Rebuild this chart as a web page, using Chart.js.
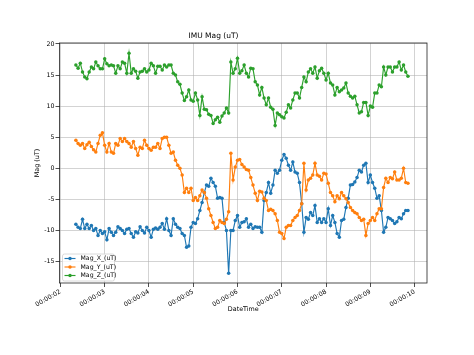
<!DOCTYPE html>
<html><head><meta charset="utf-8">
<script src="https://cdn.jsdelivr.net/npm/chart.js@4.4.0/dist/chart.umd.min.js"></script>
<style>html,body{margin:0;padding:0;background:#fff}</style>
</head><body>
<canvas id="c" width="474" height="355"></canvas>
<script>
// sample times in seconds (00:00:SS)
const timeSec = [
2.35,2.40,2.45,2.50,2.55,2.60,2.65,2.70,2.75,2.80,
2.85,2.90,2.95,3.00,3.05,3.10,3.15,3.20,3.25,3.30,
3.35,3.40,3.45,3.50,3.55,3.60,3.65,3.70,3.75,3.80,
3.85,3.90,3.95,4.00,4.05,4.10,4.15,4.20,4.25,4.30,
4.35,4.40,4.45,4.50,4.55,4.60,4.65,4.70,4.75,4.80,
4.85,4.90,4.95,5.00,5.05,5.10,5.15,5.20,5.25,5.30,
5.35,5.40,5.45,5.50,5.55,5.60,5.65,5.70,5.75,5.80,
5.85,5.90,5.95,6.00,6.05,6.10,6.15,6.20,6.25,6.30,
6.35,6.40,6.45,6.50,6.55,6.60,6.65,6.70,6.75,6.80,
6.85,6.90,6.95,7.00,7.05,7.10,7.15,7.20,7.25,7.30,
7.35,7.40,7.45,7.50,7.55,7.60,7.65,7.70,7.75,7.80,
7.85,7.90,7.95,8.00,8.05,8.10,8.15,8.20,8.25,8.30,
8.35,8.40,8.45,8.50,8.55,8.60,8.65,8.70,8.75,8.80,
8.85,8.90,8.95,9.00,9.05,9.10,9.15,9.20,9.25,9.30,
9.35,9.40,9.45,9.50,9.55,9.60,9.65,9.70,9.75,9.80,
9.85];

const magX = [
-9.0,-9.5,-9.7,-8.2,-9.7,-9.0,-9.7,-9.2,-10.0,-9.7,
-10.8,-10.0,-10.5,-10.2,-11.5,-9.7,-10.3,-10.8,-10.3,-9.4,
-9.7,-10.0,-10.5,-9.8,-9.7,-10.5,-11.1,-10.2,-10.4,-9.4,
-10.0,-10.4,-9.5,-10.0,-11.1,-9.8,-9.6,-9.8,-9.5,-8.9,
-9.8,-8.1,-10.0,-10.8,-8.1,-9.0,-9.5,-9.7,-10.5,-10.8,
-12.7,-12.5,-9.5,-8.7,-8.9,-8.1,-6.8,-5.5,-3.9,-2.7,
-2.9,-1.6,-2.3,-2.9,-4.8,-4.7,-4.8,-8.7,-10.0,-16.9,
-10.0,-10.0,-8.4,-7.6,-9.5,-8.7,-8.6,-8.1,-9.5,-9.0,
-9.7,-9.4,-9.5,-9.5,-10.3,-5.2,-3.9,-2.3,-4.0,-2.7,
-0.3,-0.8,-0.3,1.3,2.2,1.6,0.5,-0.3,1.0,-0.6,
-0.8,-2.3,-5.7,-10.3,-7.9,-8.2,-7.1,-7.6,-6.0,-8.7,
-8.1,-8.7,-8.1,-8.7,-6.5,-9.2,-7.6,-8.7,-10.5,-11.1,
-8.4,-8.2,-6.3,-4.8,-2.7,-2.6,-2.2,-1.5,-0.3,-0.6,
0.5,0.8,-2.3,-1.1,-2.3,-3.2,-4.8,-4.4,-6.8,-10.3,
-9.5,-7.9,-8.1,-8.4,-8.9,-8.6,-7.9,-8.1,-7.3,-6.8,
-6.8];

const magY = [
4.5,4.0,3.7,4.0,3.2,3.8,4.2,3.5,3.0,2.6,
4.0,5.3,5.7,3.7,2.6,4.0,2.6,2.4,4.0,3.7,
4.8,4.3,4.8,4.3,4.0,3.4,4.3,3.2,2.1,3.4,
3.2,4.5,3.7,3.2,2.9,3.4,3.4,4.0,3.2,4.8,
5.0,5.0,3.7,2.4,2.6,1.3,0.5,0.0,-1.1,-3.9,
-3.2,-3.9,-3.2,-5.2,-4.7,-5.2,-4.4,-3.5,-3.9,-4.8,
-6.5,-7.6,-8.7,-9.7,-9.5,-8.4,-8.7,-8.9,-8.2,-7.0,
2.4,-1.9,0.2,1.3,1.4,0.6,0.2,-0.2,-0.3,-1.5,
-2.7,-4.0,-5.2,-3.7,-3.8,-4.8,-5.2,-6.8,-6.6,-6.8,
-7.3,-8.4,-10.3,-10.5,-11.3,-9.5,-9.2,-9.2,-8.4,-7.9,
-7.6,-6.8,-5.7,0.8,-3.5,-1.9,-1.6,-1.1,0.8,-1.1,
-1.3,-1.9,-0.8,-0.9,-2.4,-3.9,-4.4,-5.4,-4.4,-4.9,
-3.9,-4.4,-4.9,-5.5,-6.3,-6.8,-7.1,-7.3,-7.9,-8.4,
-8.2,-10.8,-8.9,-8.4,-7.9,-8.4,-7.3,-6.5,-6.5,-3.1,
-1.6,-2.3,-1.5,-1.7,-0.6,-1.9,-1.9,-1.6,0.0,-2.3,
-2.4];

const magZ = [
16.6,16.1,16.9,15.5,14.7,14.4,15.5,16.3,16.0,17.1,
16.5,16.0,16.0,17.6,16.8,16.5,16.6,16.5,15.3,16.5,
16.0,17.1,16.9,15.3,18.5,15.3,16.0,15.6,14.5,15.5,
15.6,16.0,15.5,15.8,16.9,16.5,15.3,16.4,16.4,15.8,
16.6,16.3,16.6,16.6,15.3,15.0,13.9,13.5,12.1,10.9,
11.5,12.6,11.0,10.8,12.1,11.0,8.5,11.5,9.5,9.4,
8.7,8.5,7.2,7.8,8.2,7.4,8.4,8.9,9.7,8.9,
17.1,15.3,16.0,17.7,15.3,15.7,16.6,15.3,14.7,16.1,
16.0,13.9,13.4,11.8,13.0,11.3,10.2,11.3,9.8,9.5,
6.9,8.9,8.6,8.3,8.1,9.0,10.2,9.7,11.0,12.1,
12.1,11.3,13.0,14.7,13.9,15.5,16.0,15.3,16.3,14.5,
15.7,16.1,15.3,14.2,15.3,13.7,13.4,11.8,13.0,12.3,
12.6,12.9,13.7,12.1,11.6,11.3,11.6,10.2,8.9,9.1,
10.6,10.6,8.5,10.0,9.8,12.1,12.1,13.4,13.1,16.3,
15.0,16.3,16.3,15.5,16.3,16.3,17.1,15.8,16.6,15.5,
14.8];

const seriesLabels = ['Mag_X_(uT)', 'Mag_Y_(uT)', 'Mag_Z_(uT)'];
const xTickSeconds = [2, 3, 4, 5, 6, 7, 8, 9, 10];
const yTickValues = [-15, -10, -5, 0, 5, 10, 15, 20];

const colors = ['#1f77b4', '#ff7f0e', '#2ca02c'];
const FONT = 'DejaVu Sans';
const seriesValues = [magX, magY, magZ];

const datasets = seriesValues.map((vals, k) => ({
  label: seriesLabels[k],
  data: vals.map((v, i) => ({x: timeSec[i], y: v})),
  borderColor: colors[k],
  backgroundColor: colors[k],
  borderWidth: 1.15,
  pointRadius: 1.75,
  pointBorderWidth: 0,
  pointHoverRadius: 1.75,
  tension: 0,
  order: 3 - k
}));

const fmtTime = v => '00:00:' + String(v).padStart(2, '0');

const framePlugin = {
  id: 'frame',
  afterDatasetsDraw(chart) {
    const {ctx, chartArea: a} = chart;
    ctx.save();
    ctx.strokeStyle = '#222';
    ctx.lineWidth = 0.8;
    ctx.strokeRect(a.left, a.top, a.right - a.left, a.bottom - a.top);
    ctx.restore();
  }
};

const legendPlugin = {
  id: 'mplLegend',
  afterDraw(chart) {
    const {ctx, chartArea: a} = chart;
    const x0 = a.left + 3, y0 = a.bottom - 29, w = 52, h = 27, r = 2;
    ctx.save();
    ctx.beginPath();
    ctx.moveTo(x0 + r, y0);
    ctx.arcTo(x0 + w, y0, x0 + w, y0 + h, r);
    ctx.arcTo(x0 + w, y0 + h, x0, y0 + h, r);
    ctx.arcTo(x0, y0 + h, x0, y0, r);
    ctx.arcTo(x0, y0, x0 + w, y0, r);
    ctx.closePath();
    ctx.fillStyle = 'rgba(255,255,255,0.8)';
    ctx.fill();
    ctx.strokeStyle = '#d0d0d0';
    ctx.lineWidth = 0.8;
    ctx.stroke();
    ctx.font = '6.2px "' + FONT + '"';
    ctx.textBaseline = 'middle';
    ctx.textAlign = 'left';
    seriesLabels.forEach((lab, k) => {
      const yy = y0 + 4.5 + k * 8.5;
      ctx.strokeStyle = colors[k];
      ctx.lineWidth = 1.15;
      ctx.beginPath();
      ctx.moveTo(x0 + 2, yy);
      ctx.lineTo(x0 + 13, yy);
      ctx.stroke();
      ctx.fillStyle = colors[k];
      ctx.beginPath();
      ctx.arc(x0 + 7.5, yy, 1.75, 0, Math.PI * 2);
      ctx.fill();
      ctx.fillStyle = '#000';
      ctx.fillText(lab, x0 + 18, yy);
    });
    ctx.restore();
  }
};

new Chart(document.getElementById('c'), {
  type: 'line',
  data: {datasets},
  plugins: [framePlugin, legendPlugin],
  options: {
    responsive: false,
    animation: false,
    events: [],
    layout: {padding: {left: 0, right: 47, top: 0, bottom: 41}},
    plugins: {
      legend: {display: false},
      tooltip: {enabled: false},
      title: {
        display: true,
        text: 'IMU Mag (uT)',
        color: '#000',
        font: {family: FONT, size: 7.5, weight: 'normal'},
        padding: {top: 32, bottom: 2}
      }
    },
    scales: {
      x: {
        type: 'linear',
        min: 1.98,
        max: 10.28,
        afterFit(s) { s.height = 31; },
        afterBuildTicks(s) { s.ticks = xTickSeconds.map(v => ({value: v})); },
        ticks: {
          callback: v => fmtTime(v),
          autoSkip: false,
          maxRotation: 30,
          minRotation: 30,
          padding: 1,
          color: '#000',
          font: {family: FONT, size: 6.3}
        },
        grid: {color: 'rgba(176,176,176,0.7)', lineWidth: 0.8, tickLength: 4, tickColor: '#222', tickWidth: 0.8},
        border: {display: false},
        title: {display: true, text: 'DateTime', color: '#000', font: {family: FONT, size: 6.4}, padding: {top: 0, bottom: 1}}
      },
      y: {
        min: -18.45,
        max: 20.15,
        afterFit(s) { s.width = 59.5; },
        afterBuildTicks(s) { s.ticks = yTickValues.map(v => ({value: v})); },
        ticks: {
          padding: 1,
          color: '#000',
          font: {family: FONT, size: 6.3}
        },
        grid: {color: 'rgba(176,176,176,0.7)', lineWidth: 0.8, tickLength: 4, tickColor: '#222', tickWidth: 0.8},
        border: {display: false},
        title: {display: true, text: 'Mag (uT)', color: '#000', font: {family: FONT, size: 6.4}, padding: {top: 34, bottom: 0}}
      }
    }
  }
});
</script>
</body></html>
